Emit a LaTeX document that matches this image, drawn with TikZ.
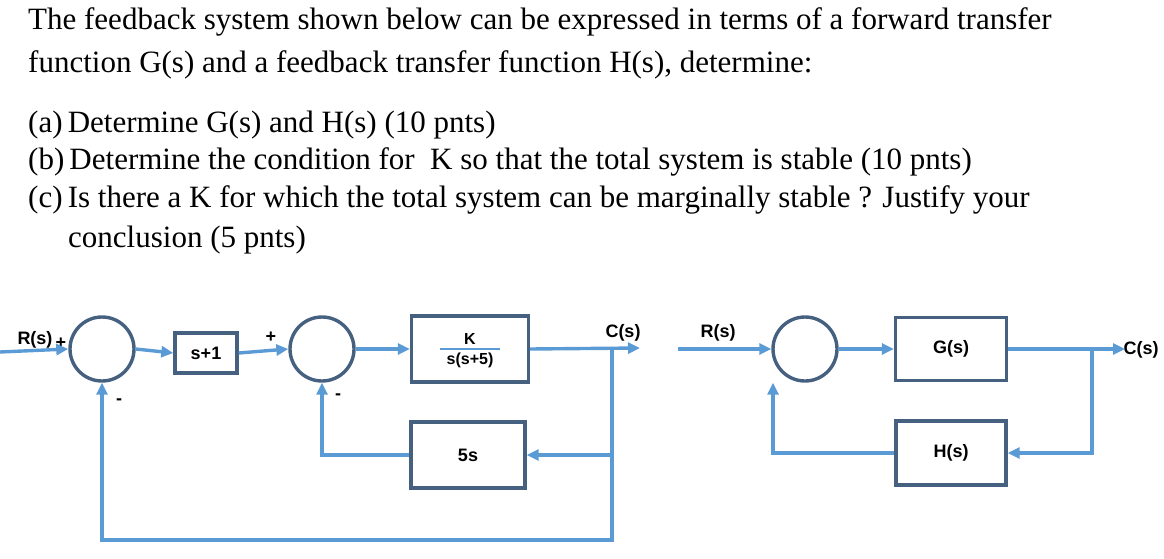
\documentclass[tikz,border=0pt]{standalone}
\usepackage{fontspec}
\setmainfont{Liberation Serif}
\newfontfamily\arialfont{Liberation Sans}
\usetikzlibrary{arrows.meta}
\definecolor{lineblue}{RGB}{91,155,213}
\definecolor{boxblue}{RGB}{70,96,128}
\begin{document}
\begin{tikzpicture}[x=1pt,y=-1pt,
  txt/.style={anchor=west,inner sep=0pt,font=\fontsize{31}{36}\selectfont},
  lbl/.style={inner sep=0pt,font=\arialfont\bfseries\fontsize{18}{21}\selectfont},
  blk/.style={draw=boxblue,line width=3.4pt,fill=white,inner sep=0pt,font=\arialfont\bfseries\fontsize{18}{21}\selectfont},
  sum/.style={circle,draw=boxblue,line width=3.4pt,minimum size=64pt,inner sep=0pt},
  wire/.style={draw=lineblue,line width=3.4pt},
  arr/.style={wire,-{Triangle[length=12pt,width=11pt]}}]
\useasboundingbox (0,0) rectangle (1164,559);
% text
\node[txt] (t1) at (28,22) {The feedback system shown below can be expressed in terms of a forward transfer};
\node[txt] (t2) at (28,65) {function G(s) and a feedback transfer function H(s), determine:};
\node[txt] (ta) at (28,125) {(a)\,Determine G(s) and H(s) (10 pnts)};
\node[txt] (tb) at (28,162) {(b)\,Determine the condition for\ \ K so that the total system is stable (10 pnts)};
\node[txt] (tc) at (28,200) {(c)\,Is there a K for which the total system can be marginally stable ? Justify your};
\node[txt] (td) at (68,240) {conclusion (5 pnts)};
% left diagram
\node[sum] (s1) at (102,349) {};
\node[blk,minimum width=62pt,minimum height=40pt] (b1) at (206,353) {s+1};
\node[sum] (s2) at (322,349) {};
\node[blk,minimum width=117pt,minimum height=66pt] (bk) at (470,349) {};
\node[lbl,font=\arialfont\bfseries\fontsize{16}{19}\selectfont] (kn) at (470,339) {K};
\node[lbl,font=\arialfont\bfseries\fontsize{16}{19}\selectfont] (kd) at (470,360) {s(s+5)};
\draw[wire,line width=1.5pt] (440,349) -- (500,349);
\node[blk,minimum width=114pt,minimum height=66pt] (b5) at (468,455) {5s};
\coordinate (in1) at (0,352);
\coordinate (out1) at (640,348);
\coordinate (br1) at (612,348);
\coordinate (br1a) at (612,455);
\coordinate (br1b) at (612,540);
\coordinate (c1) at (102,540);
\coordinate (c2) at (322,455);
\node[lbl] at (35,340) {R(s)};
\node[lbl] at (61,343) {+};
\node[lbl] at (271,337) {+};
\node[lbl] at (119,402) {-};
\node[lbl] at (338,397) {-};
\node[lbl] at (623,333) {C(s)};
\draw[arr] (in1) -- (s1.west);
\draw[arr] (s1.east) -- (b1.west);
\draw[arr] (b1.east) -- (s2.west);
\draw[arr] (s2.east) -- (bk.west);
\draw[arr] (bk.east) -- (out1);
\draw[arr] (br1) -- (br1a) -- (b5.east);
\draw[arr] (b5.west) -- (c2) -- (s2.south);
\draw[arr] (br1a) -- (br1b) -- (c1) -- (s1.south);
% right diagram
\node[sum] (s3) at (805,349) {};
\node[blk,minimum width=111pt,minimum height=63pt] (g) at (951,349) {G(s)};
\node[blk,minimum width=110pt,minimum height=64pt] (h) at (951,453) {H(s)};
\coordinate (in3) at (678,349);
\coordinate (out3) at (1125,349);
\coordinate (br3) at (1092,349);
\coordinate (br3a) at (1092,453);
\coordinate (c3) at (773,453);
\node[lbl] at (718,333) {R(s)};
\node[lbl] at (1141,350) {C(s)};
\draw[arr] (in3) -- (s3.west);
\draw[arr] (s3.east) -- (g.west);
\draw[arr] (g.east) -- (out3);
\draw[arr] (br3) -- (br3a) -- (h.east);
\draw[arr] (h.west) -- (c3) -- (c3 |- s3.south);
\end{tikzpicture}
\end{document}
